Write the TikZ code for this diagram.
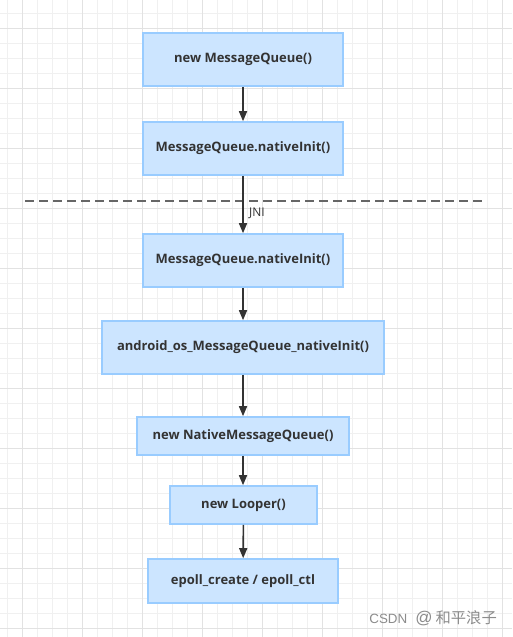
\documentclass[tikz,border=0pt]{standalone}
\usepackage{fontspec}
\setmainfont{Open Sans}
\newfontfamily\cjkfont{Noto Sans CJK SC}
\newfontfamily\wmlatin{Liberation Sans}
\usetikzlibrary{arrows.meta}
\definecolor{boxfill}{HTML}{CCE5FF}
\definecolor{boxline}{HTML}{99CCFF}
\definecolor{txt}{HTML}{333333}
\definecolor{gridminor}{HTML}{F0F0F0}
\definecolor{gridmajor}{HTML}{E2E2E2}
\tikzset{
  flowbox/.style={draw=boxline, fill=boxfill, line width=1.6pt, text=txt,
    font=\fontsize{13}{15}\selectfont\bfseries, inner sep=0pt},
  flowarrow/.style={draw=txt, line width=1.6pt,
    -{Triangle[length=10pt,width=8pt]}},
  sepline/.style={draw=black!60, line width=1.5pt, dash pattern=on 9pt off 5pt},
}
\begin{document}
\begin{tikzpicture}[x=1pt,y=-1pt]
\useasboundingbox (0,0) rectangle (512,637);
\fill[white] (0,0) rectangle (512,637);
% grid
\foreach \gx in {7,22,...,512} \draw[gridminor, line width=0.9pt] (\gx,0) -- (\gx,637);
\foreach \gy in {13,28,...,637} \draw[gridminor, line width=0.9pt] (0,\gy) -- (512,\gy);
\foreach \gx in {22,82,...,512} \draw[gridmajor, line width=0.9pt] (\gx,0) -- (\gx,637);
\foreach \gy in {28,88,...,637} \draw[gridmajor, line width=0.9pt] (0,\gy) -- (512,\gy);
% boxes
\node[flowbox, minimum width=200pt, minimum height=53pt] (b1) at (243,59.5) {new MessageQueue()};
\node[flowbox, minimum width=200pt, minimum height=53pt] (b2) at (243,148.5) {MessageQueue.nativeInit()};
\node[flowbox, minimum width=200pt, minimum height=53pt] (b3) at (243,260.5) {MessageQueue.nativeInit()};
\node[flowbox, minimum width=282pt, minimum height=53pt] (b4) at (243,347.5) {android\_os\_MessageQueue\_nativeInit()};
\node[flowbox, minimum width=212pt, minimum height=38pt] (b5) at (243,436) {new NativeMessageQueue()};
\node[flowbox, minimum width=147pt, minimum height=38pt] (b6) at (243.5,505) {new Looper()};
\node[flowbox, minimum width=190pt, minimum height=44pt] (b7) at (243,581) {epoll\_create / epoll\_ctl};
% separator
\coordinate (sepL) at (25,201);
\coordinate (sepR) at (483,201);
\draw[sepline] (sepL) -- (sepR);
% arrows
\draw[flowarrow] (b1) -- (b2);
\draw[flowarrow] (b2) -- node[pos=0.65, right, xshift=2pt, text=txt, font=\fontsize{12}{13}\selectfont] (jni) {JNI} (b3);
\draw[flowarrow] (b3) -- (b4);
\draw[flowarrow] (b4) -- (b5);
\draw[flowarrow] (b5.south) -- (b6.north -| b5.south);
\draw[flowarrow] (b6) -- (b7);
% watermark
\node[anchor=east, text=black!45, inner sep=0pt] (wm) at (497,618)
  {{\wmlatin\fontsize{13.4}{15}\selectfont CSDN\hspace{8pt}\fontsize{17}{18}\selectfont @}\hspace{3pt}{\cjkfont\fontsize{15.3}{16}\selectfont 和平浪子}};
\end{tikzpicture}
\end{document}
